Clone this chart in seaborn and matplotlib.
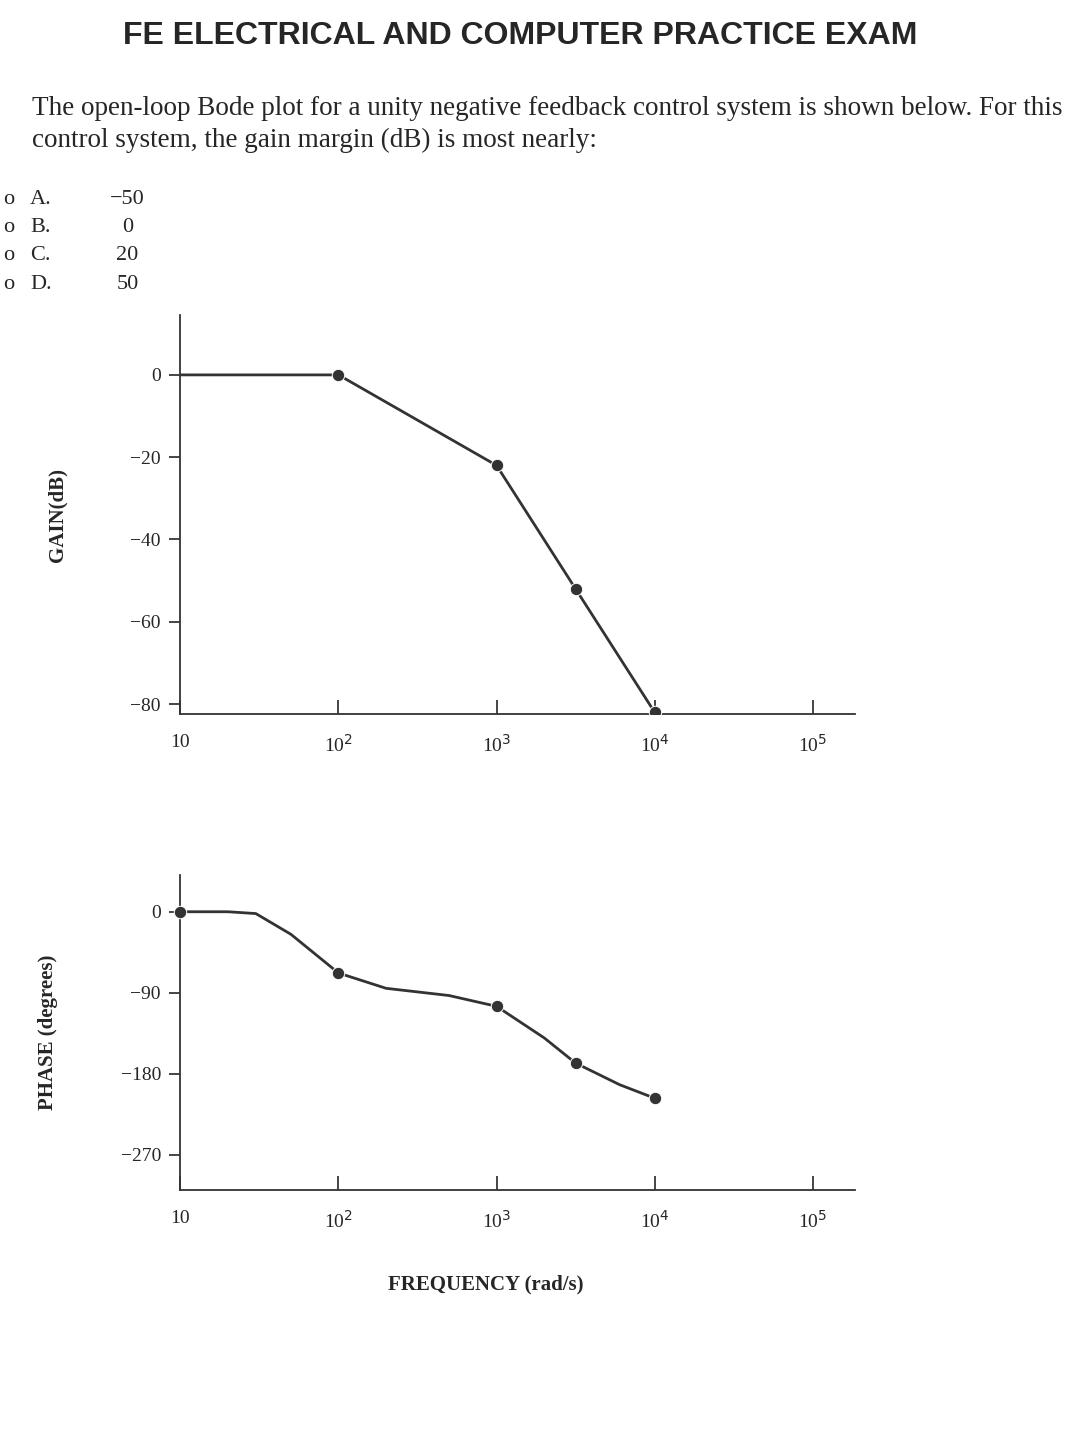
import matplotlib
matplotlib.use("Agg")
import matplotlib.pyplot as plt
import seaborn as sns
import pandas as pd

sns.set_theme(style="white")
plt.rcParams['font.family'] = ['Liberation Serif', 'DejaVu Serif']

gain_freq = [10, 100, 1000, 3160, 10000]
gain_db = [0, 0, -22, -52, -82]
gain_marker_freq = [100, 1000, 3160, 10000]
gain_marker_db = [0, -22, -52, -82]

phase_freq = [10, 20, 30, 50, 100, 200, 500, 1000, 2000, 3160, 6000, 10000]
phase_deg = [0, 0, -2, -25, -68, -85, -93, -105, -140, -168, -192, -207]
phase_marker_freq = [10, 100, 1000, 3160, 10000]
phase_marker_deg = [0, -68, -105, -168, -207]

options = ["A.", "B.", "C.", "D."]
option_vals = ["\u221250", "0", "20", "50"]
xticks = [10, 100, 1000, 10000, 100000]
xtick_labels = ["10", "10$^2$", "10$^3$", "10$^4$", "10$^5$"]

fig = plt.figure(figsize=(10.8, 14.46), dpi=100)
fig.text(0.482, 0.975, "FE ELECTRICAL AND COMPUTER PRACTICE EXAM", ha="center", va="center",
         fontsize=23, fontweight="bold", family=["Liberation Sans", "DejaVu Sans"])
fig.text(0.03, 0.925, "The open-loop Bode plot for a unity negative feedback control system is shown below. For this",
         fontsize=19.5, va="center")
fig.text(0.03, 0.903, "control system, the gain margin (dB) is most nearly:", fontsize=19.5, va="center")
for i, (o, v) in enumerate(zip(options, option_vals)):
    y = 0.862 - i * 0.0195
    fig.text(0.003, y, "o", fontsize=16, va="center")
    fig.text(0.028, y, o, fontsize=16, va="center")
    fig.text(0.118, y, v, fontsize=16, va="center", ha="center")

def style(ax, yticks, ylabel):
    ax.set_xscale("log")
    ax.set_xticks(xticks)
    ax.set_xticklabels(xtick_labels, fontsize=14)
    ax.minorticks_off()
    ax.set_yticks(yticks)
    ax.set_yticklabels([str(t).replace("-", "\u2212") for t in yticks], fontsize=14)
    for s in ["top", "right"]:
        ax.spines[s].set_visible(False)
    for s in ["left", "bottom"]:
        ax.spines[s].set_color("#333333")
        ax.spines[s].set_linewidth(1.3)
    ax.tick_params(axis="y", direction="out", length=8, width=1.2, left=True, pad=6)
    ax.tick_params(axis="x", direction="in", length=10, width=1.2, bottom=True, pad=14)
    ax.set_ylabel(ylabel, fontsize=15, fontweight="bold", labelpad=45)
    ax.set_xlabel("")

ax1 = fig.add_axes([0.167, 0.506, 0.625, 0.276])
sns.lineplot(x=gain_freq, y=gain_db, ax=ax1, color="#333333", linewidth=2)
sns.scatterplot(x=gain_marker_freq, y=gain_marker_db, ax=ax1, color="#333333", s=80, zorder=5)
ax1.set_xlim(10, 186000)
ax1.set_ylim(-82.5, 14.5)
style(ax1, [0, -20, -40, -60, -80], "GAIN(dB)")

ax2 = fig.add_axes([0.167, 0.177, 0.625, 0.218])
df = pd.DataFrame({"f": phase_freq, "p": phase_deg})
ax2.plot(df["f"], df["p"], color="#333333", linewidth=2)
sns.scatterplot(x=phase_marker_freq, y=phase_marker_deg, ax=ax2, color="#333333", s=80, zorder=5, clip_on=False)
ax2.set_xlim(10, 186000)
ax2.set_ylim(-309, 41)
style(ax2, [0, -90, -180, -270], "PHASE (degrees)")

fig.text(0.45, 0.108, "FREQUENCY (rad/s)", fontsize=15, fontweight="bold", ha="center")

fig.savefig("out.png", dpi=100, facecolor="white")
